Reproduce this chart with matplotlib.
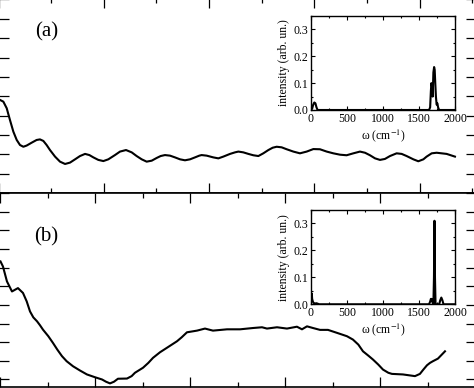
import matplotlib
matplotlib.use('Agg')
import matplotlib.pyplot as plt
from matplotlib.ticker import MultipleLocator

plt.rcParams['font.family'] = ['Liberation Serif', 'DejaVu Serif']
plt.rcParams['mathtext.fontset'] = 'stix'

# === Dados: painel (a) ===
t_a = [0.014, 0.046, 0.078, 0.109, 0.141, 0.173, 0.204, 0.236, 0.267, 0.315,
       0.362, 0.394, 0.426, 0.457, 0.489, 0.537, 0.584, 0.632, 0.679, 0.727,
       0.774, 0.822, 0.863, 0.901, 0.948, 0.996, 1.043, 1.106, 1.154, 1.211,
       1.265, 1.312, 1.360, 1.407, 1.455, 1.502, 1.540, 1.581, 1.629, 1.676,
       1.724, 1.771, 1.819, 1.866, 1.907, 1.929, 1.977, 2.040, 2.088, 2.135,
       2.199, 2.246, 2.278, 2.325, 2.373, 2.420, 2.468, 2.515, 2.563, 2.604,
       2.642, 2.689, 2.737, 2.800, 2.863, 2.927, 2.990, 3.053, 3.117, 3.180,
       3.243, 3.306, 3.370, 3.433, 3.481, 3.528, 3.576, 3.623, 3.670, 3.718,
       3.781, 3.829, 3.876, 3.940, 3.987, 4.035, 4.066, 4.114, 4.161, 4.209,
       4.256, 4.335]
y_a = [4.81, 4.72, 4.38, 3.77, 3.17, 2.74, 2.48, 2.39, 2.45, 2.60,
       2.74, 2.77, 2.69, 2.48, 2.22, 1.88, 1.62, 1.50, 1.57, 1.74,
       1.91, 2.02, 1.96, 1.84, 1.71, 1.65, 1.74, 1.96, 2.14, 2.22,
       2.10, 1.91, 1.74, 1.62, 1.67, 1.81, 1.91, 1.96, 1.93, 1.84,
       1.74, 1.69, 1.74, 1.84, 1.93, 1.96, 1.93, 1.84, 1.79, 1.88,
       2.02, 2.10, 2.14, 2.10, 2.02, 1.95, 1.91, 2.05, 2.22, 2.34,
       2.39, 2.36, 2.26, 2.14, 2.05, 2.14, 2.27, 2.26, 2.14, 2.05,
       1.98, 1.95, 2.05, 2.14, 2.08, 1.95, 1.79, 1.71, 1.76, 1.91,
       2.05, 2.02, 1.91, 1.74, 1.64, 1.74, 1.88, 2.05, 2.08, 2.05,
       2.02, 1.88]

# === Dados: painel (b) ===
t_b = [0.0, 0.026, 0.068, 0.121, 0.184, 0.237, 0.276, 0.311, 0.346, 0.385,
       0.416, 0.448, 0.504, 0.553, 0.599, 0.648, 0.697, 0.764, 0.838, 0.911,
       0.996, 1.070, 1.112, 1.154, 1.196, 1.238, 1.333, 1.382, 1.417, 1.502,
       1.558, 1.607, 1.681, 1.754, 1.860, 1.909, 1.965, 2.071, 2.155, 2.239,
       2.387, 2.524, 2.661, 2.756, 2.808, 2.914, 3.019, 3.124, 3.177, 3.230,
       3.293, 3.367, 3.451, 3.546, 3.651, 3.714, 3.771, 3.820, 3.876, 3.925,
       3.981, 4.031, 4.087, 4.125, 4.241, 4.368, 4.420, 4.456, 4.494, 4.526,
       4.557, 4.610, 4.684]
y_b = [6.33, 6.06, 5.26, 4.72, 4.90, 4.64, 4.19, 3.65, 3.33, 3.12,
       2.91, 2.67, 2.32, 1.96, 1.60, 1.25, 0.98, 0.71, 0.48, 0.27,
       0.12, 0.00, -0.12, -0.21, -0.12, 0.04, 0.05, 0.18, 0.36, 0.63,
       0.89, 1.16, 1.46, 1.70, 2.05, 2.26, 2.53, 2.62, 2.73, 2.62,
       2.69, 2.69, 2.76, 2.80, 2.73, 2.80, 2.73, 2.83, 2.69, 2.85,
       2.76, 2.66, 2.66, 2.50, 2.32, 2.14, 1.87, 1.51, 1.28, 1.07,
       0.80, 0.53, 0.36, 0.30, 0.27, 0.18, 0.30, 0.53, 0.76, 0.89,
       0.98, 1.12, 1.51]

# === Espectros dos insets ===
omega_a = [0, 20, 35, 50, 65, 80, 95, 1640, 1655, 1665, 1672, 1680, 1690,
           1700, 1710, 1718, 1726, 1735, 1745, 1755, 1765, 1780, 2000]
int_a = [0.0, 0.005, 0.02, 0.028, 0.025, 0.01, 0.0, 0.0, 0.01, 0.07, 0.10,
         0.09, 0.05, 0.14, 0.16, 0.15, 0.10, 0.05, 0.02, 0.025, 0.01, 0.0, 0.0]

omega_b = [0, 5, 10, 15, 20, 30, 40, 60, 80, 100, 120, 1640, 1655, 1665,
           1675, 1690, 1700, 1708, 1715, 1722, 1730, 1780, 1795, 1810, 1825,
           1840, 2000]
int_b = [0.0, 0.04, 0.03, 0.04, 0.02, 0.01, 0.005, 0.003, 0.004, 0.002, 0.0,
         0.0, 0.01, 0.02, 0.02, 0.005, 0.0, 0.1, 0.31, 0.1, 0.0, 0.0, 0.015,
         0.025, 0.015, 0.0, 0.0]

fig = plt.figure(figsize=(4.74, 3.88), dpi=100)

# eixos principais (cortados nas bordas, como na figura original)
ax_a = fig.add_axes([-0.00316, 0.50258, 1.0074, 0.50129])
ax_b = fig.add_axes([-0.00316, 0.00129, 1.0074, 0.50129])

for ax in (ax_a, ax_b):
    for s in ax.spines.values():
        s.set_linewidth(1.2)
    ax.tick_params(which='both', direction='in', top=True, right=True,
                   labelleft=False, labelbottom=False, width=0.9)
    ax.tick_params(which='major', length=7.2)
    ax.tick_params(which='minor', length=3.6)
    ax.xaxis.set_major_locator(MultipleLocator(1))
    ax.xaxis.set_minor_locator(MultipleLocator(0.5))
    ax.yaxis.set_major_locator(MultipleLocator(1))

ax_a.plot(t_a, y_a, color='black', lw=1.5)
ax_a.set_xlim(0, 4.535)
ax_a.set_ylim(0, 10.05)
ax_a.text(0.1, 0.828, '(a)', transform=ax_a.transAxes, fontsize=15,
          ha='center', va='center')

ax_b.plot(t_b, y_b, color='black', lw=1.5)
ax_b.set_xlim(-0.021, 5.011)
ax_b.set_ylim(-0.43, 10)
ax_b.text(0.1, 0.774, '(b)', transform=ax_b.transAxes, fontsize=15,
          ha='center', va='center')

# === Insets ===
in_a = fig.add_axes([0.6555, 0.7165, 0.3045, 0.2423])
in_b = fig.add_axes([0.6555, 0.2157, 0.3045, 0.2431])
for ins, om, it in ((in_a, omega_a, int_a), (in_b, omega_b, int_b)):
    ins.plot(om, it, color='black', lw=1.5)
    ins.set_xlim(0, 2000)
    ins.set_ylim(0, 0.35)
    ins.xaxis.set_major_locator(MultipleLocator(500))
    ins.xaxis.set_minor_locator(MultipleLocator(250))
    ins.yaxis.set_minor_locator(MultipleLocator(0.05))
    ins.set_yticks([0.0, 0.1, 0.2, 0.3])
    ins.set_yticklabels(['0.0', '0.1', '0.2', '0.3'])
    ins.tick_params(which='both', direction='in', top=True, right=True,
                    labelsize=8.5, pad=2, width=0.8)
    ins.tick_params(which='major', length=3)
    ins.tick_params(which='minor', length=1.6)
    for s in ins.spines.values():
        s.set_linewidth(1.0)
    ins.set_xlabel(r'ω (cm$^{-1}$)', fontsize=8.5, labelpad=1.5)
    ins.set_ylabel('intensity (arb. un.)', fontsize=8.5, labelpad=2)

fig.savefig('out.png', dpi=100)
